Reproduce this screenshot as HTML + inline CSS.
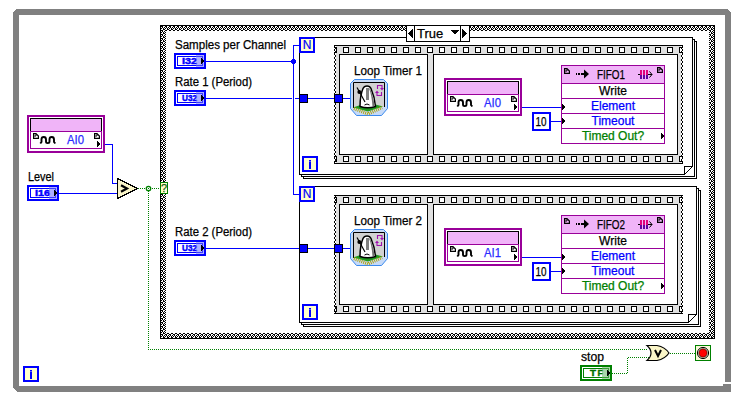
<!DOCTYPE html>
<html><head><meta charset="utf-8"><style>
html,body{margin:0;padding:0;background:#fff;width:741px;height:400px;overflow:hidden}
svg{display:block}
</style></head><body>
<svg width="741" height="400" viewBox="0 0 741 400" shape-rendering="crispEdges">
<defs><pattern id="chk" width="4" height="4" patternUnits="userSpaceOnUse"><rect width="4" height="4" fill="#fff"/><rect x="1" y="0" width="1" height="1" fill="#000"/><rect x="3" y="0" width="1" height="1" fill="#000"/><rect x="0" y="1" width="1" height="1" fill="#000"/><rect x="3" y="1" width="1" height="1" fill="#000"/><rect x="1" y="2" width="1" height="1" fill="#000"/><rect x="2" y="2" width="1" height="1" fill="#000"/><rect x="0" y="3" width="1" height="1" fill="#000"/><rect x="2" y="3" width="1" height="1" fill="#000"/></pattern><pattern id="dot" width="2" height="2" patternUnits="userSpaceOnUse"><rect width="1" height="1" fill="#000"/><rect x="1" y="1" width="1" height="1" fill="#000"/></pattern></defs>
<path d="M13 12 L16 9 H727 L731 13 V382 H725 V15 H19 V386 H13 Z" fill="#808080"/>
<path d="M13 386 H723 V384 H731 V392 H17 L13 388 Z" fill="#808080"/>
<rect x="23" y="366" width="16" height="16" fill="#0000ff"/>
<rect x="25" y="368" width="12" height="12" fill="#ffffcc"/>
<rect x="30" y="370" width="2" height="2" fill="#6060ff"/>
<rect x="30" y="370" width="2" height="1" fill="#0000ff"/>
<rect x="30" y="372" width="2" height="7" fill="#0000ff"/>
<path d="M160 25 h555 v314 h-555 Z M166 31 v302 h543 v-302 Z" fill="url(#chk)" fill-rule="evenodd"/>
<path d="M160 25 h555 v314 h-555 Z M161 26 v312 h553 v-312 Z" fill="#000" fill-rule="evenodd"/>
<path d="M299.5 37.5 H692.5 V166.5 L684.5 174.5 H299.5 Z" fill="#fff" stroke="#000" stroke-width="1"/>
<path d="M692.5 39.5 h2 V176.5 H301.5 v-2" fill="none" stroke="#000" stroke-width="1"/>
<path d="M694.5 41.5 h2 V178.5 H303.5 v-2" fill="none" stroke="#000" stroke-width="1"/>
<path d="M684.5 166.5 H692.5 L684.5 174.5 Z" fill="#fff" stroke="#000" stroke-width="1"/>
<rect x="299" y="37" width="16" height="16" fill="#0000ff"/>
<rect x="301" y="39" width="12" height="12" fill="#ffffcc"/>
<text x="307" y="49" font-family='"Liberation Sans", sans-serif' font-size="12" fill="#0000ff" text-anchor="middle" font-weight="normal" stroke="#0000ff" stroke-width="0.2">N</text>
<rect x="302" y="156" width="16" height="16" fill="#0000ff"/>
<rect x="304" y="158" width="12" height="12" fill="#ffffcc"/>
<rect x="309" y="160" width="2" height="2" fill="#6060ff"/>
<rect x="309" y="160" width="2" height="1" fill="#0000ff"/>
<rect x="309" y="162" width="2" height="7" fill="#0000ff"/>
<rect x="334" y="45" width="349" height="119" fill="#e0e0e0"/>
<rect x="334" y="45" width="349" height="1" fill="#000"/>
<rect x="334" y="163" width="349" height="1" fill="#000"/>
<rect x="339" y="54" width="89" height="101" fill="#000"/>
<rect x="340" y="55" width="87" height="99" fill="#fff"/>
<rect x="433" y="54" width="245" height="101" fill="#000"/>
<rect x="434" y="55" width="243" height="99" fill="#fff"/>
<rect x="343" y="47" width="6" height="6" fill="#000"/>
<rect x="344" y="48" width="4" height="4" fill="#fff"/>
<rect x="355" y="47" width="6" height="6" fill="#000"/>
<rect x="356" y="48" width="4" height="4" fill="#fff"/>
<rect x="367" y="47" width="6" height="6" fill="#000"/>
<rect x="368" y="48" width="4" height="4" fill="#fff"/>
<rect x="379" y="47" width="6" height="6" fill="#000"/>
<rect x="380" y="48" width="4" height="4" fill="#fff"/>
<rect x="391" y="47" width="6" height="6" fill="#000"/>
<rect x="392" y="48" width="4" height="4" fill="#fff"/>
<rect x="403" y="47" width="6" height="6" fill="#000"/>
<rect x="404" y="48" width="4" height="4" fill="#fff"/>
<rect x="415" y="47" width="6" height="6" fill="#000"/>
<rect x="416" y="48" width="4" height="4" fill="#fff"/>
<rect x="427" y="47" width="6" height="6" fill="#000"/>
<rect x="428" y="48" width="4" height="4" fill="#fff"/>
<rect x="439" y="47" width="6" height="6" fill="#000"/>
<rect x="440" y="48" width="4" height="4" fill="#fff"/>
<rect x="451" y="47" width="6" height="6" fill="#000"/>
<rect x="452" y="48" width="4" height="4" fill="#fff"/>
<rect x="463" y="47" width="6" height="6" fill="#000"/>
<rect x="464" y="48" width="4" height="4" fill="#fff"/>
<rect x="475" y="47" width="6" height="6" fill="#000"/>
<rect x="476" y="48" width="4" height="4" fill="#fff"/>
<rect x="487" y="47" width="6" height="6" fill="#000"/>
<rect x="488" y="48" width="4" height="4" fill="#fff"/>
<rect x="499" y="47" width="6" height="6" fill="#000"/>
<rect x="500" y="48" width="4" height="4" fill="#fff"/>
<rect x="511" y="47" width="6" height="6" fill="#000"/>
<rect x="512" y="48" width="4" height="4" fill="#fff"/>
<rect x="523" y="47" width="6" height="6" fill="#000"/>
<rect x="524" y="48" width="4" height="4" fill="#fff"/>
<rect x="535" y="47" width="6" height="6" fill="#000"/>
<rect x="536" y="48" width="4" height="4" fill="#fff"/>
<rect x="547" y="47" width="6" height="6" fill="#000"/>
<rect x="548" y="48" width="4" height="4" fill="#fff"/>
<rect x="559" y="47" width="6" height="6" fill="#000"/>
<rect x="560" y="48" width="4" height="4" fill="#fff"/>
<rect x="571" y="47" width="6" height="6" fill="#000"/>
<rect x="572" y="48" width="4" height="4" fill="#fff"/>
<rect x="583" y="47" width="6" height="6" fill="#000"/>
<rect x="584" y="48" width="4" height="4" fill="#fff"/>
<rect x="595" y="47" width="6" height="6" fill="#000"/>
<rect x="596" y="48" width="4" height="4" fill="#fff"/>
<rect x="607" y="47" width="6" height="6" fill="#000"/>
<rect x="608" y="48" width="4" height="4" fill="#fff"/>
<rect x="619" y="47" width="6" height="6" fill="#000"/>
<rect x="620" y="48" width="4" height="4" fill="#fff"/>
<rect x="631" y="47" width="6" height="6" fill="#000"/>
<rect x="632" y="48" width="4" height="4" fill="#fff"/>
<rect x="643" y="47" width="6" height="6" fill="#000"/>
<rect x="644" y="48" width="4" height="4" fill="#fff"/>
<rect x="655" y="47" width="6" height="6" fill="#000"/>
<rect x="656" y="48" width="4" height="4" fill="#fff"/>
<rect x="667" y="47" width="6" height="6" fill="#000"/>
<rect x="668" y="48" width="4" height="4" fill="#fff"/>
<rect x="343" y="156" width="6" height="6" fill="#000"/>
<rect x="344" y="157" width="4" height="4" fill="#fff"/>
<rect x="355" y="156" width="6" height="6" fill="#000"/>
<rect x="356" y="157" width="4" height="4" fill="#fff"/>
<rect x="367" y="156" width="6" height="6" fill="#000"/>
<rect x="368" y="157" width="4" height="4" fill="#fff"/>
<rect x="379" y="156" width="6" height="6" fill="#000"/>
<rect x="380" y="157" width="4" height="4" fill="#fff"/>
<rect x="391" y="156" width="6" height="6" fill="#000"/>
<rect x="392" y="157" width="4" height="4" fill="#fff"/>
<rect x="403" y="156" width="6" height="6" fill="#000"/>
<rect x="404" y="157" width="4" height="4" fill="#fff"/>
<rect x="415" y="156" width="6" height="6" fill="#000"/>
<rect x="416" y="157" width="4" height="4" fill="#fff"/>
<rect x="427" y="156" width="6" height="6" fill="#000"/>
<rect x="428" y="157" width="4" height="4" fill="#fff"/>
<rect x="439" y="156" width="6" height="6" fill="#000"/>
<rect x="440" y="157" width="4" height="4" fill="#fff"/>
<rect x="451" y="156" width="6" height="6" fill="#000"/>
<rect x="452" y="157" width="4" height="4" fill="#fff"/>
<rect x="463" y="156" width="6" height="6" fill="#000"/>
<rect x="464" y="157" width="4" height="4" fill="#fff"/>
<rect x="475" y="156" width="6" height="6" fill="#000"/>
<rect x="476" y="157" width="4" height="4" fill="#fff"/>
<rect x="487" y="156" width="6" height="6" fill="#000"/>
<rect x="488" y="157" width="4" height="4" fill="#fff"/>
<rect x="499" y="156" width="6" height="6" fill="#000"/>
<rect x="500" y="157" width="4" height="4" fill="#fff"/>
<rect x="511" y="156" width="6" height="6" fill="#000"/>
<rect x="512" y="157" width="4" height="4" fill="#fff"/>
<rect x="523" y="156" width="6" height="6" fill="#000"/>
<rect x="524" y="157" width="4" height="4" fill="#fff"/>
<rect x="535" y="156" width="6" height="6" fill="#000"/>
<rect x="536" y="157" width="4" height="4" fill="#fff"/>
<rect x="547" y="156" width="6" height="6" fill="#000"/>
<rect x="548" y="157" width="4" height="4" fill="#fff"/>
<rect x="559" y="156" width="6" height="6" fill="#000"/>
<rect x="560" y="157" width="4" height="4" fill="#fff"/>
<rect x="571" y="156" width="6" height="6" fill="#000"/>
<rect x="572" y="157" width="4" height="4" fill="#fff"/>
<rect x="583" y="156" width="6" height="6" fill="#000"/>
<rect x="584" y="157" width="4" height="4" fill="#fff"/>
<rect x="595" y="156" width="6" height="6" fill="#000"/>
<rect x="596" y="157" width="4" height="4" fill="#fff"/>
<rect x="607" y="156" width="6" height="6" fill="#000"/>
<rect x="608" y="157" width="4" height="4" fill="#fff"/>
<rect x="619" y="156" width="6" height="6" fill="#000"/>
<rect x="620" y="157" width="4" height="4" fill="#fff"/>
<rect x="631" y="156" width="6" height="6" fill="#000"/>
<rect x="632" y="157" width="4" height="4" fill="#fff"/>
<rect x="643" y="156" width="6" height="6" fill="#000"/>
<rect x="644" y="157" width="4" height="4" fill="#fff"/>
<rect x="655" y="156" width="6" height="6" fill="#000"/>
<rect x="656" y="157" width="4" height="4" fill="#fff"/>
<rect x="667" y="156" width="6" height="6" fill="#000"/>
<rect x="668" y="157" width="4" height="4" fill="#fff"/>
<rect x="334" y="47" width="3" height="6" fill="#000"/>
<rect x="334" y="48" width="2" height="4" fill="#fff"/>
<rect x="334" y="156" width="3" height="6" fill="#000"/>
<rect x="334" y="157" width="2" height="4" fill="#fff"/>
<rect x="679" y="47" width="4" height="6" fill="#000"/>
<rect x="680" y="48" width="2" height="4" fill="#fff"/>
<rect x="679" y="156" width="4" height="6" fill="#000"/>
<rect x="680" y="157" width="2" height="4" fill="#fff"/>
<path d="M335 46h1v1h-1zM681 46h1v1h-1zM334 48h1v1h-1zM682 48h1v1h-1zM335 49h1v1h-1zM681 49h1v1h-1zM335 50h1v1h-1zM681 50h1v1h-1zM334 51h1v1h-1zM682 51h1v1h-1zM335 53h1v1h-1zM681 53h1v1h-1zM335 54h1v1h-1zM681 54h1v1h-1zM334 55h1v1h-1zM682 55h1v1h-1zM334 56h1v1h-1zM682 56h1v1h-1zM335 57h1v1h-1zM681 57h1v1h-1zM335 58h1v1h-1zM681 58h1v1h-1zM334 59h1v1h-1zM682 59h1v1h-1zM334 60h1v1h-1zM682 60h1v1h-1zM335 61h1v1h-1zM681 61h1v1h-1zM335 62h1v1h-1zM681 62h1v1h-1zM334 63h1v1h-1zM682 63h1v1h-1zM334 64h1v1h-1zM682 64h1v1h-1zM335 65h1v1h-1zM681 65h1v1h-1zM335 66h1v1h-1zM681 66h1v1h-1zM334 67h1v1h-1zM682 67h1v1h-1zM334 68h1v1h-1zM682 68h1v1h-1zM335 69h1v1h-1zM681 69h1v1h-1zM335 70h1v1h-1zM681 70h1v1h-1zM334 71h1v1h-1zM682 71h1v1h-1zM334 72h1v1h-1zM682 72h1v1h-1zM335 73h1v1h-1zM681 73h1v1h-1zM335 74h1v1h-1zM681 74h1v1h-1zM334 75h1v1h-1zM682 75h1v1h-1zM334 76h1v1h-1zM682 76h1v1h-1zM335 77h1v1h-1zM681 77h1v1h-1zM335 78h1v1h-1zM681 78h1v1h-1zM334 79h1v1h-1zM682 79h1v1h-1zM334 80h1v1h-1zM682 80h1v1h-1zM335 81h1v1h-1zM681 81h1v1h-1zM335 82h1v1h-1zM681 82h1v1h-1zM334 83h1v1h-1zM682 83h1v1h-1zM334 84h1v1h-1zM682 84h1v1h-1zM335 85h1v1h-1zM681 85h1v1h-1zM335 86h1v1h-1zM681 86h1v1h-1zM334 87h1v1h-1zM682 87h1v1h-1zM334 88h1v1h-1zM682 88h1v1h-1zM335 89h1v1h-1zM681 89h1v1h-1zM335 90h1v1h-1zM681 90h1v1h-1zM334 91h1v1h-1zM682 91h1v1h-1zM334 92h1v1h-1zM682 92h1v1h-1zM335 93h1v1h-1zM681 93h1v1h-1zM335 94h1v1h-1zM681 94h1v1h-1zM334 95h1v1h-1zM682 95h1v1h-1zM334 96h1v1h-1zM682 96h1v1h-1zM335 97h1v1h-1zM681 97h1v1h-1zM335 98h1v1h-1zM681 98h1v1h-1zM334 99h1v1h-1zM682 99h1v1h-1zM334 100h1v1h-1zM682 100h1v1h-1zM335 101h1v1h-1zM681 101h1v1h-1zM335 102h1v1h-1zM681 102h1v1h-1zM334 103h1v1h-1zM682 103h1v1h-1zM334 104h1v1h-1zM682 104h1v1h-1zM335 105h1v1h-1zM681 105h1v1h-1zM335 106h1v1h-1zM681 106h1v1h-1zM334 107h1v1h-1zM682 107h1v1h-1zM334 108h1v1h-1zM682 108h1v1h-1zM335 109h1v1h-1zM681 109h1v1h-1zM335 110h1v1h-1zM681 110h1v1h-1zM334 111h1v1h-1zM682 111h1v1h-1zM334 112h1v1h-1zM682 112h1v1h-1zM335 113h1v1h-1zM681 113h1v1h-1zM335 114h1v1h-1zM681 114h1v1h-1zM334 115h1v1h-1zM682 115h1v1h-1zM334 116h1v1h-1zM682 116h1v1h-1zM335 117h1v1h-1zM681 117h1v1h-1zM335 118h1v1h-1zM681 118h1v1h-1zM334 119h1v1h-1zM682 119h1v1h-1zM334 120h1v1h-1zM682 120h1v1h-1zM335 121h1v1h-1zM681 121h1v1h-1zM335 122h1v1h-1zM681 122h1v1h-1zM334 123h1v1h-1zM682 123h1v1h-1zM334 124h1v1h-1zM682 124h1v1h-1zM335 125h1v1h-1zM681 125h1v1h-1zM335 126h1v1h-1zM681 126h1v1h-1zM334 127h1v1h-1zM682 127h1v1h-1zM334 128h1v1h-1zM682 128h1v1h-1zM335 129h1v1h-1zM681 129h1v1h-1zM335 130h1v1h-1zM681 130h1v1h-1zM334 131h1v1h-1zM682 131h1v1h-1zM334 132h1v1h-1zM682 132h1v1h-1zM335 133h1v1h-1zM681 133h1v1h-1zM335 134h1v1h-1zM681 134h1v1h-1zM334 135h1v1h-1zM682 135h1v1h-1zM334 136h1v1h-1zM682 136h1v1h-1zM335 137h1v1h-1zM681 137h1v1h-1zM335 138h1v1h-1zM681 138h1v1h-1zM334 139h1v1h-1zM682 139h1v1h-1zM334 140h1v1h-1zM682 140h1v1h-1zM335 141h1v1h-1zM681 141h1v1h-1zM335 142h1v1h-1zM681 142h1v1h-1zM334 143h1v1h-1zM682 143h1v1h-1zM334 144h1v1h-1zM682 144h1v1h-1zM335 145h1v1h-1zM681 145h1v1h-1zM335 146h1v1h-1zM681 146h1v1h-1zM334 147h1v1h-1zM682 147h1v1h-1zM334 148h1v1h-1zM682 148h1v1h-1zM335 149h1v1h-1zM681 149h1v1h-1zM335 150h1v1h-1zM681 150h1v1h-1zM334 151h1v1h-1zM682 151h1v1h-1zM334 152h1v1h-1zM682 152h1v1h-1zM335 153h1v1h-1zM681 153h1v1h-1zM335 154h1v1h-1zM681 154h1v1h-1zM334 155h1v1h-1zM682 155h1v1h-1zM335 157h1v1h-1zM681 157h1v1h-1zM335 158h1v1h-1zM681 158h1v1h-1zM334 159h1v1h-1zM682 159h1v1h-1zM334 160h1v1h-1zM682 160h1v1h-1zM335 162h1v1h-1zM681 162h1v1h-1z" fill="#fff"/>
<path d="M334 46h1v1h-1zM682 46h1v1h-1zM335 48h1v1h-1zM681 48h1v1h-1zM334 49h1v1h-1zM682 49h1v1h-1zM334 50h1v1h-1zM682 50h1v1h-1zM335 51h1v1h-1zM681 51h1v1h-1zM334 53h1v1h-1zM682 53h1v1h-1zM334 54h1v1h-1zM682 54h1v1h-1zM335 55h1v1h-1zM681 55h1v1h-1zM335 56h1v1h-1zM681 56h1v1h-1zM334 57h1v1h-1zM682 57h1v1h-1zM334 58h1v1h-1zM682 58h1v1h-1zM335 59h1v1h-1zM681 59h1v1h-1zM335 60h1v1h-1zM681 60h1v1h-1zM334 61h1v1h-1zM682 61h1v1h-1zM334 62h1v1h-1zM682 62h1v1h-1zM335 63h1v1h-1zM681 63h1v1h-1zM335 64h1v1h-1zM681 64h1v1h-1zM334 65h1v1h-1zM682 65h1v1h-1zM334 66h1v1h-1zM682 66h1v1h-1zM335 67h1v1h-1zM681 67h1v1h-1zM335 68h1v1h-1zM681 68h1v1h-1zM334 69h1v1h-1zM682 69h1v1h-1zM334 70h1v1h-1zM682 70h1v1h-1zM335 71h1v1h-1zM681 71h1v1h-1zM335 72h1v1h-1zM681 72h1v1h-1zM334 73h1v1h-1zM682 73h1v1h-1zM334 74h1v1h-1zM682 74h1v1h-1zM335 75h1v1h-1zM681 75h1v1h-1zM335 76h1v1h-1zM681 76h1v1h-1zM334 77h1v1h-1zM682 77h1v1h-1zM334 78h1v1h-1zM682 78h1v1h-1zM335 79h1v1h-1zM681 79h1v1h-1zM335 80h1v1h-1zM681 80h1v1h-1zM334 81h1v1h-1zM682 81h1v1h-1zM334 82h1v1h-1zM682 82h1v1h-1zM335 83h1v1h-1zM681 83h1v1h-1zM335 84h1v1h-1zM681 84h1v1h-1zM334 85h1v1h-1zM682 85h1v1h-1zM334 86h1v1h-1zM682 86h1v1h-1zM335 87h1v1h-1zM681 87h1v1h-1zM335 88h1v1h-1zM681 88h1v1h-1zM334 89h1v1h-1zM682 89h1v1h-1zM334 90h1v1h-1zM682 90h1v1h-1zM335 91h1v1h-1zM681 91h1v1h-1zM335 92h1v1h-1zM681 92h1v1h-1zM334 93h1v1h-1zM682 93h1v1h-1zM334 94h1v1h-1zM682 94h1v1h-1zM335 95h1v1h-1zM681 95h1v1h-1zM335 96h1v1h-1zM681 96h1v1h-1zM334 97h1v1h-1zM682 97h1v1h-1zM334 98h1v1h-1zM682 98h1v1h-1zM335 99h1v1h-1zM681 99h1v1h-1zM335 100h1v1h-1zM681 100h1v1h-1zM334 101h1v1h-1zM682 101h1v1h-1zM334 102h1v1h-1zM682 102h1v1h-1zM335 103h1v1h-1zM681 103h1v1h-1zM335 104h1v1h-1zM681 104h1v1h-1zM334 105h1v1h-1zM682 105h1v1h-1zM334 106h1v1h-1zM682 106h1v1h-1zM335 107h1v1h-1zM681 107h1v1h-1zM335 108h1v1h-1zM681 108h1v1h-1zM334 109h1v1h-1zM682 109h1v1h-1zM334 110h1v1h-1zM682 110h1v1h-1zM335 111h1v1h-1zM681 111h1v1h-1zM335 112h1v1h-1zM681 112h1v1h-1zM334 113h1v1h-1zM682 113h1v1h-1zM334 114h1v1h-1zM682 114h1v1h-1zM335 115h1v1h-1zM681 115h1v1h-1zM335 116h1v1h-1zM681 116h1v1h-1zM334 117h1v1h-1zM682 117h1v1h-1zM334 118h1v1h-1zM682 118h1v1h-1zM335 119h1v1h-1zM681 119h1v1h-1zM335 120h1v1h-1zM681 120h1v1h-1zM334 121h1v1h-1zM682 121h1v1h-1zM334 122h1v1h-1zM682 122h1v1h-1zM335 123h1v1h-1zM681 123h1v1h-1zM335 124h1v1h-1zM681 124h1v1h-1zM334 125h1v1h-1zM682 125h1v1h-1zM334 126h1v1h-1zM682 126h1v1h-1zM335 127h1v1h-1zM681 127h1v1h-1zM335 128h1v1h-1zM681 128h1v1h-1zM334 129h1v1h-1zM682 129h1v1h-1zM334 130h1v1h-1zM682 130h1v1h-1zM335 131h1v1h-1zM681 131h1v1h-1zM335 132h1v1h-1zM681 132h1v1h-1zM334 133h1v1h-1zM682 133h1v1h-1zM334 134h1v1h-1zM682 134h1v1h-1zM335 135h1v1h-1zM681 135h1v1h-1zM335 136h1v1h-1zM681 136h1v1h-1zM334 137h1v1h-1zM682 137h1v1h-1zM334 138h1v1h-1zM682 138h1v1h-1zM335 139h1v1h-1zM681 139h1v1h-1zM335 140h1v1h-1zM681 140h1v1h-1zM334 141h1v1h-1zM682 141h1v1h-1zM334 142h1v1h-1zM682 142h1v1h-1zM335 143h1v1h-1zM681 143h1v1h-1zM335 144h1v1h-1zM681 144h1v1h-1zM334 145h1v1h-1zM682 145h1v1h-1zM334 146h1v1h-1zM682 146h1v1h-1zM335 147h1v1h-1zM681 147h1v1h-1zM335 148h1v1h-1zM681 148h1v1h-1zM334 149h1v1h-1zM682 149h1v1h-1zM334 150h1v1h-1zM682 150h1v1h-1zM335 151h1v1h-1zM681 151h1v1h-1zM335 152h1v1h-1zM681 152h1v1h-1zM334 153h1v1h-1zM682 153h1v1h-1zM334 154h1v1h-1zM682 154h1v1h-1zM335 155h1v1h-1zM681 155h1v1h-1zM334 157h1v1h-1zM682 157h1v1h-1zM334 158h1v1h-1zM682 158h1v1h-1zM335 159h1v1h-1zM681 159h1v1h-1zM335 160h1v1h-1zM681 160h1v1h-1zM334 162h1v1h-1zM682 162h1v1h-1z" fill="#000"/>
<text x="354" y="75" font-family='"Liberation Sans", sans-serif' font-size="12" fill="#000" text-anchor="start" font-weight="normal" textLength="68" lengthAdjust="spacingAndGlyphs" stroke="#000" stroke-width="0.25">Loop Timer 1</text>
<g transform="translate(348,77)" shape-rendering="auto"><path d="M6.5 2.5 H35.5 L39.5 6.5 V31.5 L33.5 38.5 H8.5 L2.5 31.5 V6.5 Z" fill="#c6daf8" stroke="#3a8af0" stroke-width="1"/><path d="M5.5 31 V5.5 H36.5 V30" fill="#d2d2d2" stroke="#000" stroke-width="1"/><path d="M5 30.5 L20 25.5 L35 29.5 L20 34.5 Z" fill="#1f9a1f"/><path d="M6 31.5 L20 37 L34 30.5" fill="none" stroke="#b0a000" stroke-width="3.4" stroke-dasharray="0.9 1.1"/><path d="M12 29.5 C12 22 13.5 15 15 11.5 C16.5 8 21.5 8 23 11.5 C24.5 15 27 22 27.5 29.5 C23 31 16.5 31 12 29.5 Z" fill="#fff" stroke="#000" stroke-width="1.5"/><path d="M22 11.5 C23.5 15 26 22 26.5 29 L24.5 29.5 C24 22 23 16 21 11.5 Z" fill="#707070"/><path d="M18 12 h3 M18 14 h3 M18 16 h3 M18 18 h3 M18 20 h3 M18 22 h3" stroke="#000" stroke-width="1"/><path d="M16.5 28 Q19 26 21.5 28" fill="none" stroke="#000" stroke-width="1"/><path d="M9 10.5 L17 25" stroke="#000" stroke-width="1.2"/><circle cx="11.3" cy="15" r="1.9" fill="#000"/><path d="M29.5 12 V8.5 H34 V11.5" fill="none" stroke="#a010b0" stroke-width="1.1"/><path d="M32 11 L34 13.5 L36 11 Z" fill="#a010b0"/><path d="M33.5 15 V18.5 H29 V15.5" fill="none" stroke="#a010b0" stroke-width="1.1"/><path d="M27 16 L29 13.5 L31 16 Z" fill="#a010b0"/></g>
<rect x="444" y="78" width="78" height="38" fill="#990099"/>
<rect x="446" y="80" width="74" height="34" fill="#fff"/>
<rect x="447" y="81" width="72" height="14" fill="#000"/>
<rect x="448" y="82" width="70" height="12" fill="#f0b4f8"/>
<rect x="447" y="94" width="72" height="18" fill="#990099"/>
<rect x="448" y="95" width="70" height="16" fill="#fff"/>
<path d="M450.6 96.6 H453 L455.4 99 V101.4 H450.6 Z" fill="none" stroke="#000" stroke-width="1.2" shape-rendering="auto"/>
<path d="M451.2 99 H453 V97" fill="none" stroke="#000" stroke-width="1" shape-rendering="auto"/>
<path transform="translate(457,98)" d="M0.3 8.5 L1.5 7 V4.5 C1.5 1.2 6 1.2 6 4.5 V6.5 C6 8.6 9.5 8.6 9.5 6.5 V4.5 C9.5 1.2 14 1.2 14 4.5 V7 L15.3 8.5" fill="none" stroke="#000" stroke-width="1.9" shape-rendering="auto"/>
<text x="484" y="106.5" font-family='"Liberation Sans", sans-serif' font-size="12" fill="#2b2bff" text-anchor="start" font-weight="normal" textLength="17" lengthAdjust="spacingAndGlyphs" stroke="#2b2bff" stroke-width="0.25">AI0</text>
<path d="M511.6 96.6 H514 L516.4 99 V101.4 H511.6 Z" fill="none" stroke="#000" stroke-width="1.2" shape-rendering="auto"/>
<path d="M512.2 99 H514 V97" fill="none" stroke="#000" stroke-width="1" shape-rendering="auto"/>
<path d="M514 104 L517 107 L514 110 Z" fill="#000"/>
<rect x="561" y="65" width="104" height="79" fill="#990099"/>
<rect x="562" y="66" width="102" height="17" fill="#f0b4f8"/>
<rect x="562" y="84" width="102" height="14" fill="#fff"/>
<text x="613" y="94.5" font-family='"Liberation Sans", sans-serif' font-size="12" fill="#000" text-anchor="middle" font-weight="normal" stroke="#000" stroke-width="0.25">Write</text>
<rect x="562" y="99" width="102" height="14" fill="#fff"/>
<text x="613" y="109.5" font-family='"Liberation Sans", sans-serif' font-size="12" fill="#0000ff" text-anchor="middle" font-weight="normal" stroke="#0000ff" stroke-width="0.25">Element</text>
<rect x="562" y="114" width="102" height="14" fill="#fff"/>
<text x="613" y="124.5" font-family='"Liberation Sans", sans-serif' font-size="12" fill="#0000ff" text-anchor="middle" font-weight="normal" stroke="#0000ff" stroke-width="0.25">Timeout</text>
<rect x="562" y="129" width="102" height="14" fill="#fff"/>
<text x="613" y="139.5" font-family='"Liberation Sans", sans-serif' font-size="12" fill="#008000" text-anchor="middle" font-weight="normal" stroke="#008000" stroke-width="0.25">Timed Out?</text>
<path d="M564.6 68.6 H567 L569.4 71 V73.4 H564.6 Z" fill="none" stroke="#000" stroke-width="1.2" shape-rendering="auto"/>
<path d="M565.2 71 H567 V69" fill="none" stroke="#000" stroke-width="1" shape-rendering="auto"/>
<path d="M657.6 67.6 H660 L662.4 70 V72.4 H657.6 Z" fill="none" stroke="#000" stroke-width="1.2" shape-rendering="auto"/>
<path d="M658.2 70 H660 V68" fill="none" stroke="#000" stroke-width="1" shape-rendering="auto"/>
<text x="611" y="78.5" font-family='"Liberation Sans", sans-serif' font-size="12" fill="#000" text-anchor="middle" font-weight="normal" textLength="28" lengthAdjust="spacingAndGlyphs" stroke="#000" stroke-width="0.25">FIFO1</text>
<rect x="576" y="73" width="1" height="2" fill="#000"/>
<rect x="578" y="73" width="2" height="2" fill="#000"/>
<rect x="581" y="73" width="4" height="2" fill="#000"/>
<path d="M584 69.5 L589 74 L584 78.5 Z" fill="#000" shape-rendering="auto"/>
<rect x="638" y="74" width="3" height="1" fill="#000"/>
<rect x="640" y="70" width="2" height="5" fill="#e0007a"/>
<rect x="640" y="75" width="2" height="4" fill="#6000a0"/>
<rect x="643" y="70" width="2" height="5" fill="#e0007a"/>
<rect x="643" y="75" width="2" height="4" fill="#6000a0"/>
<rect x="646" y="70" width="2" height="5" fill="#e0007a"/>
<rect x="646" y="75" width="2" height="4" fill="#6000a0"/>
<rect x="648" y="74" width="4" height="1" fill="#000"/>
<path d="M649.5 71.5 L652 74.5 L649.5 77.5" fill="none" stroke="#000" stroke-width="1" shape-rendering="auto"/>
<path d="M562 104 L565 107 L562 110 Z" fill="#000"/>
<path d="M562 118 L565 121 L562 124 Z" fill="#000"/>
<path d="M661 133 L664 136 L661 139 Z" fill="#000"/>
<rect x="532" y="112" width="19" height="19" fill="#0000ff"/>
<rect x="534" y="114" width="15" height="15" fill="#fff"/>
<text x="535.5" y="126" font-family='"Liberation Sans", sans-serif' font-size="12" fill="#000" text-anchor="start" font-weight="normal" textLength="11" lengthAdjust="spacingAndGlyphs" stroke="#000" stroke-width="0.25">10</text>
<rect x="522" y="107" width="39" height="1" fill="#0000ff"/>
<rect x="551" y="121" width="10" height="1" fill="#0000ff"/>
<rect x="299" y="94" width="9" height="9" fill="#000"/>
<rect x="300" y="95" width="7" height="7" fill="#0000ff"/>
<rect x="334" y="94" width="9" height="9" fill="#000"/>
<rect x="335" y="95" width="7" height="7" fill="#0000ff"/>
<rect x="308" y="98" width="26" height="1" fill="#0000ff"/>
<rect x="343" y="98" width="7" height="1" fill="#0000ff"/>
<path d="M299.5 186.5 H696.5 V314.5 L688.5 322.5 H299.5 Z" fill="#fff" stroke="#000" stroke-width="1"/>
<path d="M696.5 188.5 h2 V324.5 H301.5 v-2" fill="none" stroke="#000" stroke-width="1"/>
<path d="M698.5 190.5 h2 V326.5 H303.5 v-2" fill="none" stroke="#000" stroke-width="1"/>
<path d="M688.5 314.5 H696.5 L688.5 322.5 Z" fill="#fff" stroke="#000" stroke-width="1"/>
<rect x="299" y="186" width="16" height="16" fill="#0000ff"/>
<rect x="301" y="188" width="12" height="12" fill="#ffffcc"/>
<text x="307" y="198" font-family='"Liberation Sans", sans-serif' font-size="12" fill="#0000ff" text-anchor="middle" font-weight="normal" stroke="#0000ff" stroke-width="0.2">N</text>
<rect x="302" y="304" width="16" height="16" fill="#0000ff"/>
<rect x="304" y="306" width="12" height="12" fill="#ffffcc"/>
<rect x="309" y="308" width="2" height="2" fill="#6060ff"/>
<rect x="309" y="308" width="2" height="1" fill="#0000ff"/>
<rect x="309" y="310" width="2" height="7" fill="#0000ff"/>
<rect x="334" y="195" width="349" height="119" fill="#e0e0e0"/>
<rect x="334" y="195" width="349" height="1" fill="#000"/>
<rect x="334" y="313" width="349" height="1" fill="#000"/>
<rect x="339" y="204" width="89" height="101" fill="#000"/>
<rect x="340" y="205" width="87" height="99" fill="#fff"/>
<rect x="433" y="204" width="245" height="101" fill="#000"/>
<rect x="434" y="205" width="243" height="99" fill="#fff"/>
<rect x="343" y="197" width="6" height="6" fill="#000"/>
<rect x="344" y="198" width="4" height="4" fill="#fff"/>
<rect x="355" y="197" width="6" height="6" fill="#000"/>
<rect x="356" y="198" width="4" height="4" fill="#fff"/>
<rect x="367" y="197" width="6" height="6" fill="#000"/>
<rect x="368" y="198" width="4" height="4" fill="#fff"/>
<rect x="379" y="197" width="6" height="6" fill="#000"/>
<rect x="380" y="198" width="4" height="4" fill="#fff"/>
<rect x="391" y="197" width="6" height="6" fill="#000"/>
<rect x="392" y="198" width="4" height="4" fill="#fff"/>
<rect x="403" y="197" width="6" height="6" fill="#000"/>
<rect x="404" y="198" width="4" height="4" fill="#fff"/>
<rect x="415" y="197" width="6" height="6" fill="#000"/>
<rect x="416" y="198" width="4" height="4" fill="#fff"/>
<rect x="427" y="197" width="6" height="6" fill="#000"/>
<rect x="428" y="198" width="4" height="4" fill="#fff"/>
<rect x="439" y="197" width="6" height="6" fill="#000"/>
<rect x="440" y="198" width="4" height="4" fill="#fff"/>
<rect x="451" y="197" width="6" height="6" fill="#000"/>
<rect x="452" y="198" width="4" height="4" fill="#fff"/>
<rect x="463" y="197" width="6" height="6" fill="#000"/>
<rect x="464" y="198" width="4" height="4" fill="#fff"/>
<rect x="475" y="197" width="6" height="6" fill="#000"/>
<rect x="476" y="198" width="4" height="4" fill="#fff"/>
<rect x="487" y="197" width="6" height="6" fill="#000"/>
<rect x="488" y="198" width="4" height="4" fill="#fff"/>
<rect x="499" y="197" width="6" height="6" fill="#000"/>
<rect x="500" y="198" width="4" height="4" fill="#fff"/>
<rect x="511" y="197" width="6" height="6" fill="#000"/>
<rect x="512" y="198" width="4" height="4" fill="#fff"/>
<rect x="523" y="197" width="6" height="6" fill="#000"/>
<rect x="524" y="198" width="4" height="4" fill="#fff"/>
<rect x="535" y="197" width="6" height="6" fill="#000"/>
<rect x="536" y="198" width="4" height="4" fill="#fff"/>
<rect x="547" y="197" width="6" height="6" fill="#000"/>
<rect x="548" y="198" width="4" height="4" fill="#fff"/>
<rect x="559" y="197" width="6" height="6" fill="#000"/>
<rect x="560" y="198" width="4" height="4" fill="#fff"/>
<rect x="571" y="197" width="6" height="6" fill="#000"/>
<rect x="572" y="198" width="4" height="4" fill="#fff"/>
<rect x="583" y="197" width="6" height="6" fill="#000"/>
<rect x="584" y="198" width="4" height="4" fill="#fff"/>
<rect x="595" y="197" width="6" height="6" fill="#000"/>
<rect x="596" y="198" width="4" height="4" fill="#fff"/>
<rect x="607" y="197" width="6" height="6" fill="#000"/>
<rect x="608" y="198" width="4" height="4" fill="#fff"/>
<rect x="619" y="197" width="6" height="6" fill="#000"/>
<rect x="620" y="198" width="4" height="4" fill="#fff"/>
<rect x="631" y="197" width="6" height="6" fill="#000"/>
<rect x="632" y="198" width="4" height="4" fill="#fff"/>
<rect x="643" y="197" width="6" height="6" fill="#000"/>
<rect x="644" y="198" width="4" height="4" fill="#fff"/>
<rect x="655" y="197" width="6" height="6" fill="#000"/>
<rect x="656" y="198" width="4" height="4" fill="#fff"/>
<rect x="667" y="197" width="6" height="6" fill="#000"/>
<rect x="668" y="198" width="4" height="4" fill="#fff"/>
<rect x="343" y="306" width="6" height="6" fill="#000"/>
<rect x="344" y="307" width="4" height="4" fill="#fff"/>
<rect x="355" y="306" width="6" height="6" fill="#000"/>
<rect x="356" y="307" width="4" height="4" fill="#fff"/>
<rect x="367" y="306" width="6" height="6" fill="#000"/>
<rect x="368" y="307" width="4" height="4" fill="#fff"/>
<rect x="379" y="306" width="6" height="6" fill="#000"/>
<rect x="380" y="307" width="4" height="4" fill="#fff"/>
<rect x="391" y="306" width="6" height="6" fill="#000"/>
<rect x="392" y="307" width="4" height="4" fill="#fff"/>
<rect x="403" y="306" width="6" height="6" fill="#000"/>
<rect x="404" y="307" width="4" height="4" fill="#fff"/>
<rect x="415" y="306" width="6" height="6" fill="#000"/>
<rect x="416" y="307" width="4" height="4" fill="#fff"/>
<rect x="427" y="306" width="6" height="6" fill="#000"/>
<rect x="428" y="307" width="4" height="4" fill="#fff"/>
<rect x="439" y="306" width="6" height="6" fill="#000"/>
<rect x="440" y="307" width="4" height="4" fill="#fff"/>
<rect x="451" y="306" width="6" height="6" fill="#000"/>
<rect x="452" y="307" width="4" height="4" fill="#fff"/>
<rect x="463" y="306" width="6" height="6" fill="#000"/>
<rect x="464" y="307" width="4" height="4" fill="#fff"/>
<rect x="475" y="306" width="6" height="6" fill="#000"/>
<rect x="476" y="307" width="4" height="4" fill="#fff"/>
<rect x="487" y="306" width="6" height="6" fill="#000"/>
<rect x="488" y="307" width="4" height="4" fill="#fff"/>
<rect x="499" y="306" width="6" height="6" fill="#000"/>
<rect x="500" y="307" width="4" height="4" fill="#fff"/>
<rect x="511" y="306" width="6" height="6" fill="#000"/>
<rect x="512" y="307" width="4" height="4" fill="#fff"/>
<rect x="523" y="306" width="6" height="6" fill="#000"/>
<rect x="524" y="307" width="4" height="4" fill="#fff"/>
<rect x="535" y="306" width="6" height="6" fill="#000"/>
<rect x="536" y="307" width="4" height="4" fill="#fff"/>
<rect x="547" y="306" width="6" height="6" fill="#000"/>
<rect x="548" y="307" width="4" height="4" fill="#fff"/>
<rect x="559" y="306" width="6" height="6" fill="#000"/>
<rect x="560" y="307" width="4" height="4" fill="#fff"/>
<rect x="571" y="306" width="6" height="6" fill="#000"/>
<rect x="572" y="307" width="4" height="4" fill="#fff"/>
<rect x="583" y="306" width="6" height="6" fill="#000"/>
<rect x="584" y="307" width="4" height="4" fill="#fff"/>
<rect x="595" y="306" width="6" height="6" fill="#000"/>
<rect x="596" y="307" width="4" height="4" fill="#fff"/>
<rect x="607" y="306" width="6" height="6" fill="#000"/>
<rect x="608" y="307" width="4" height="4" fill="#fff"/>
<rect x="619" y="306" width="6" height="6" fill="#000"/>
<rect x="620" y="307" width="4" height="4" fill="#fff"/>
<rect x="631" y="306" width="6" height="6" fill="#000"/>
<rect x="632" y="307" width="4" height="4" fill="#fff"/>
<rect x="643" y="306" width="6" height="6" fill="#000"/>
<rect x="644" y="307" width="4" height="4" fill="#fff"/>
<rect x="655" y="306" width="6" height="6" fill="#000"/>
<rect x="656" y="307" width="4" height="4" fill="#fff"/>
<rect x="667" y="306" width="6" height="6" fill="#000"/>
<rect x="668" y="307" width="4" height="4" fill="#fff"/>
<rect x="334" y="197" width="3" height="6" fill="#000"/>
<rect x="334" y="198" width="2" height="4" fill="#fff"/>
<rect x="334" y="306" width="3" height="6" fill="#000"/>
<rect x="334" y="307" width="2" height="4" fill="#fff"/>
<rect x="679" y="197" width="4" height="6" fill="#000"/>
<rect x="680" y="198" width="2" height="4" fill="#fff"/>
<rect x="679" y="306" width="4" height="6" fill="#000"/>
<rect x="680" y="307" width="2" height="4" fill="#fff"/>
<path d="M334 196h1v1h-1zM682 196h1v1h-1zM335 198h1v1h-1zM681 198h1v1h-1zM334 199h1v1h-1zM682 199h1v1h-1zM334 200h1v1h-1zM682 200h1v1h-1zM335 201h1v1h-1zM681 201h1v1h-1zM334 203h1v1h-1zM682 203h1v1h-1zM334 204h1v1h-1zM682 204h1v1h-1zM335 205h1v1h-1zM681 205h1v1h-1zM335 206h1v1h-1zM681 206h1v1h-1zM334 207h1v1h-1zM682 207h1v1h-1zM334 208h1v1h-1zM682 208h1v1h-1zM335 209h1v1h-1zM681 209h1v1h-1zM335 210h1v1h-1zM681 210h1v1h-1zM334 211h1v1h-1zM682 211h1v1h-1zM334 212h1v1h-1zM682 212h1v1h-1zM335 213h1v1h-1zM681 213h1v1h-1zM335 214h1v1h-1zM681 214h1v1h-1zM334 215h1v1h-1zM682 215h1v1h-1zM334 216h1v1h-1zM682 216h1v1h-1zM335 217h1v1h-1zM681 217h1v1h-1zM335 218h1v1h-1zM681 218h1v1h-1zM334 219h1v1h-1zM682 219h1v1h-1zM334 220h1v1h-1zM682 220h1v1h-1zM335 221h1v1h-1zM681 221h1v1h-1zM335 222h1v1h-1zM681 222h1v1h-1zM334 223h1v1h-1zM682 223h1v1h-1zM334 224h1v1h-1zM682 224h1v1h-1zM335 225h1v1h-1zM681 225h1v1h-1zM335 226h1v1h-1zM681 226h1v1h-1zM334 227h1v1h-1zM682 227h1v1h-1zM334 228h1v1h-1zM682 228h1v1h-1zM335 229h1v1h-1zM681 229h1v1h-1zM335 230h1v1h-1zM681 230h1v1h-1zM334 231h1v1h-1zM682 231h1v1h-1zM334 232h1v1h-1zM682 232h1v1h-1zM335 233h1v1h-1zM681 233h1v1h-1zM335 234h1v1h-1zM681 234h1v1h-1zM334 235h1v1h-1zM682 235h1v1h-1zM334 236h1v1h-1zM682 236h1v1h-1zM335 237h1v1h-1zM681 237h1v1h-1zM335 238h1v1h-1zM681 238h1v1h-1zM334 239h1v1h-1zM682 239h1v1h-1zM334 240h1v1h-1zM682 240h1v1h-1zM335 241h1v1h-1zM681 241h1v1h-1zM335 242h1v1h-1zM681 242h1v1h-1zM334 243h1v1h-1zM682 243h1v1h-1zM334 244h1v1h-1zM682 244h1v1h-1zM335 245h1v1h-1zM681 245h1v1h-1zM335 246h1v1h-1zM681 246h1v1h-1zM334 247h1v1h-1zM682 247h1v1h-1zM334 248h1v1h-1zM682 248h1v1h-1zM335 249h1v1h-1zM681 249h1v1h-1zM335 250h1v1h-1zM681 250h1v1h-1zM334 251h1v1h-1zM682 251h1v1h-1zM334 252h1v1h-1zM682 252h1v1h-1zM335 253h1v1h-1zM681 253h1v1h-1zM335 254h1v1h-1zM681 254h1v1h-1zM334 255h1v1h-1zM682 255h1v1h-1zM334 256h1v1h-1zM682 256h1v1h-1zM335 257h1v1h-1zM681 257h1v1h-1zM335 258h1v1h-1zM681 258h1v1h-1zM334 259h1v1h-1zM682 259h1v1h-1zM334 260h1v1h-1zM682 260h1v1h-1zM335 261h1v1h-1zM681 261h1v1h-1zM335 262h1v1h-1zM681 262h1v1h-1zM334 263h1v1h-1zM682 263h1v1h-1zM334 264h1v1h-1zM682 264h1v1h-1zM335 265h1v1h-1zM681 265h1v1h-1zM335 266h1v1h-1zM681 266h1v1h-1zM334 267h1v1h-1zM682 267h1v1h-1zM334 268h1v1h-1zM682 268h1v1h-1zM335 269h1v1h-1zM681 269h1v1h-1zM335 270h1v1h-1zM681 270h1v1h-1zM334 271h1v1h-1zM682 271h1v1h-1zM334 272h1v1h-1zM682 272h1v1h-1zM335 273h1v1h-1zM681 273h1v1h-1zM335 274h1v1h-1zM681 274h1v1h-1zM334 275h1v1h-1zM682 275h1v1h-1zM334 276h1v1h-1zM682 276h1v1h-1zM335 277h1v1h-1zM681 277h1v1h-1zM335 278h1v1h-1zM681 278h1v1h-1zM334 279h1v1h-1zM682 279h1v1h-1zM334 280h1v1h-1zM682 280h1v1h-1zM335 281h1v1h-1zM681 281h1v1h-1zM335 282h1v1h-1zM681 282h1v1h-1zM334 283h1v1h-1zM682 283h1v1h-1zM334 284h1v1h-1zM682 284h1v1h-1zM335 285h1v1h-1zM681 285h1v1h-1zM335 286h1v1h-1zM681 286h1v1h-1zM334 287h1v1h-1zM682 287h1v1h-1zM334 288h1v1h-1zM682 288h1v1h-1zM335 289h1v1h-1zM681 289h1v1h-1zM335 290h1v1h-1zM681 290h1v1h-1zM334 291h1v1h-1zM682 291h1v1h-1zM334 292h1v1h-1zM682 292h1v1h-1zM335 293h1v1h-1zM681 293h1v1h-1zM335 294h1v1h-1zM681 294h1v1h-1zM334 295h1v1h-1zM682 295h1v1h-1zM334 296h1v1h-1zM682 296h1v1h-1zM335 297h1v1h-1zM681 297h1v1h-1zM335 298h1v1h-1zM681 298h1v1h-1zM334 299h1v1h-1zM682 299h1v1h-1zM334 300h1v1h-1zM682 300h1v1h-1zM335 301h1v1h-1zM681 301h1v1h-1zM335 302h1v1h-1zM681 302h1v1h-1zM334 303h1v1h-1zM682 303h1v1h-1zM334 304h1v1h-1zM682 304h1v1h-1zM335 305h1v1h-1zM681 305h1v1h-1zM334 307h1v1h-1zM682 307h1v1h-1zM334 308h1v1h-1zM682 308h1v1h-1zM335 309h1v1h-1zM681 309h1v1h-1zM335 310h1v1h-1zM681 310h1v1h-1zM334 312h1v1h-1zM682 312h1v1h-1z" fill="#fff"/>
<path d="M335 196h1v1h-1zM681 196h1v1h-1zM334 198h1v1h-1zM682 198h1v1h-1zM335 199h1v1h-1zM681 199h1v1h-1zM335 200h1v1h-1zM681 200h1v1h-1zM334 201h1v1h-1zM682 201h1v1h-1zM335 203h1v1h-1zM681 203h1v1h-1zM335 204h1v1h-1zM681 204h1v1h-1zM334 205h1v1h-1zM682 205h1v1h-1zM334 206h1v1h-1zM682 206h1v1h-1zM335 207h1v1h-1zM681 207h1v1h-1zM335 208h1v1h-1zM681 208h1v1h-1zM334 209h1v1h-1zM682 209h1v1h-1zM334 210h1v1h-1zM682 210h1v1h-1zM335 211h1v1h-1zM681 211h1v1h-1zM335 212h1v1h-1zM681 212h1v1h-1zM334 213h1v1h-1zM682 213h1v1h-1zM334 214h1v1h-1zM682 214h1v1h-1zM335 215h1v1h-1zM681 215h1v1h-1zM335 216h1v1h-1zM681 216h1v1h-1zM334 217h1v1h-1zM682 217h1v1h-1zM334 218h1v1h-1zM682 218h1v1h-1zM335 219h1v1h-1zM681 219h1v1h-1zM335 220h1v1h-1zM681 220h1v1h-1zM334 221h1v1h-1zM682 221h1v1h-1zM334 222h1v1h-1zM682 222h1v1h-1zM335 223h1v1h-1zM681 223h1v1h-1zM335 224h1v1h-1zM681 224h1v1h-1zM334 225h1v1h-1zM682 225h1v1h-1zM334 226h1v1h-1zM682 226h1v1h-1zM335 227h1v1h-1zM681 227h1v1h-1zM335 228h1v1h-1zM681 228h1v1h-1zM334 229h1v1h-1zM682 229h1v1h-1zM334 230h1v1h-1zM682 230h1v1h-1zM335 231h1v1h-1zM681 231h1v1h-1zM335 232h1v1h-1zM681 232h1v1h-1zM334 233h1v1h-1zM682 233h1v1h-1zM334 234h1v1h-1zM682 234h1v1h-1zM335 235h1v1h-1zM681 235h1v1h-1zM335 236h1v1h-1zM681 236h1v1h-1zM334 237h1v1h-1zM682 237h1v1h-1zM334 238h1v1h-1zM682 238h1v1h-1zM335 239h1v1h-1zM681 239h1v1h-1zM335 240h1v1h-1zM681 240h1v1h-1zM334 241h1v1h-1zM682 241h1v1h-1zM334 242h1v1h-1zM682 242h1v1h-1zM335 243h1v1h-1zM681 243h1v1h-1zM335 244h1v1h-1zM681 244h1v1h-1zM334 245h1v1h-1zM682 245h1v1h-1zM334 246h1v1h-1zM682 246h1v1h-1zM335 247h1v1h-1zM681 247h1v1h-1zM335 248h1v1h-1zM681 248h1v1h-1zM334 249h1v1h-1zM682 249h1v1h-1zM334 250h1v1h-1zM682 250h1v1h-1zM335 251h1v1h-1zM681 251h1v1h-1zM335 252h1v1h-1zM681 252h1v1h-1zM334 253h1v1h-1zM682 253h1v1h-1zM334 254h1v1h-1zM682 254h1v1h-1zM335 255h1v1h-1zM681 255h1v1h-1zM335 256h1v1h-1zM681 256h1v1h-1zM334 257h1v1h-1zM682 257h1v1h-1zM334 258h1v1h-1zM682 258h1v1h-1zM335 259h1v1h-1zM681 259h1v1h-1zM335 260h1v1h-1zM681 260h1v1h-1zM334 261h1v1h-1zM682 261h1v1h-1zM334 262h1v1h-1zM682 262h1v1h-1zM335 263h1v1h-1zM681 263h1v1h-1zM335 264h1v1h-1zM681 264h1v1h-1zM334 265h1v1h-1zM682 265h1v1h-1zM334 266h1v1h-1zM682 266h1v1h-1zM335 267h1v1h-1zM681 267h1v1h-1zM335 268h1v1h-1zM681 268h1v1h-1zM334 269h1v1h-1zM682 269h1v1h-1zM334 270h1v1h-1zM682 270h1v1h-1zM335 271h1v1h-1zM681 271h1v1h-1zM335 272h1v1h-1zM681 272h1v1h-1zM334 273h1v1h-1zM682 273h1v1h-1zM334 274h1v1h-1zM682 274h1v1h-1zM335 275h1v1h-1zM681 275h1v1h-1zM335 276h1v1h-1zM681 276h1v1h-1zM334 277h1v1h-1zM682 277h1v1h-1zM334 278h1v1h-1zM682 278h1v1h-1zM335 279h1v1h-1zM681 279h1v1h-1zM335 280h1v1h-1zM681 280h1v1h-1zM334 281h1v1h-1zM682 281h1v1h-1zM334 282h1v1h-1zM682 282h1v1h-1zM335 283h1v1h-1zM681 283h1v1h-1zM335 284h1v1h-1zM681 284h1v1h-1zM334 285h1v1h-1zM682 285h1v1h-1zM334 286h1v1h-1zM682 286h1v1h-1zM335 287h1v1h-1zM681 287h1v1h-1zM335 288h1v1h-1zM681 288h1v1h-1zM334 289h1v1h-1zM682 289h1v1h-1zM334 290h1v1h-1zM682 290h1v1h-1zM335 291h1v1h-1zM681 291h1v1h-1zM335 292h1v1h-1zM681 292h1v1h-1zM334 293h1v1h-1zM682 293h1v1h-1zM334 294h1v1h-1zM682 294h1v1h-1zM335 295h1v1h-1zM681 295h1v1h-1zM335 296h1v1h-1zM681 296h1v1h-1zM334 297h1v1h-1zM682 297h1v1h-1zM334 298h1v1h-1zM682 298h1v1h-1zM335 299h1v1h-1zM681 299h1v1h-1zM335 300h1v1h-1zM681 300h1v1h-1zM334 301h1v1h-1zM682 301h1v1h-1zM334 302h1v1h-1zM682 302h1v1h-1zM335 303h1v1h-1zM681 303h1v1h-1zM335 304h1v1h-1zM681 304h1v1h-1zM334 305h1v1h-1zM682 305h1v1h-1zM335 307h1v1h-1zM681 307h1v1h-1zM335 308h1v1h-1zM681 308h1v1h-1zM334 309h1v1h-1zM682 309h1v1h-1zM334 310h1v1h-1zM682 310h1v1h-1zM335 312h1v1h-1zM681 312h1v1h-1z" fill="#000"/>
<text x="354" y="225" font-family='"Liberation Sans", sans-serif' font-size="12" fill="#000" text-anchor="start" font-weight="normal" textLength="68" lengthAdjust="spacingAndGlyphs" stroke="#000" stroke-width="0.25">Loop Timer 2</text>
<g transform="translate(348,227)" shape-rendering="auto"><path d="M6.5 2.5 H35.5 L39.5 6.5 V31.5 L33.5 38.5 H8.5 L2.5 31.5 V6.5 Z" fill="#c6daf8" stroke="#3a8af0" stroke-width="1"/><path d="M5.5 31 V5.5 H36.5 V30" fill="#d2d2d2" stroke="#000" stroke-width="1"/><path d="M5 30.5 L20 25.5 L35 29.5 L20 34.5 Z" fill="#1f9a1f"/><path d="M6 31.5 L20 37 L34 30.5" fill="none" stroke="#b0a000" stroke-width="3.4" stroke-dasharray="0.9 1.1"/><path d="M12 29.5 C12 22 13.5 15 15 11.5 C16.5 8 21.5 8 23 11.5 C24.5 15 27 22 27.5 29.5 C23 31 16.5 31 12 29.5 Z" fill="#fff" stroke="#000" stroke-width="1.5"/><path d="M22 11.5 C23.5 15 26 22 26.5 29 L24.5 29.5 C24 22 23 16 21 11.5 Z" fill="#707070"/><path d="M18 12 h3 M18 14 h3 M18 16 h3 M18 18 h3 M18 20 h3 M18 22 h3" stroke="#000" stroke-width="1"/><path d="M16.5 28 Q19 26 21.5 28" fill="none" stroke="#000" stroke-width="1"/><path d="M9 10.5 L17 25" stroke="#000" stroke-width="1.2"/><circle cx="11.3" cy="15" r="1.9" fill="#000"/><path d="M29.5 12 V8.5 H34 V11.5" fill="none" stroke="#a010b0" stroke-width="1.1"/><path d="M32 11 L34 13.5 L36 11 Z" fill="#a010b0"/><path d="M33.5 15 V18.5 H29 V15.5" fill="none" stroke="#a010b0" stroke-width="1.1"/><path d="M27 16 L29 13.5 L31 16 Z" fill="#a010b0"/></g>
<rect x="444" y="228" width="78" height="38" fill="#990099"/>
<rect x="446" y="230" width="74" height="34" fill="#fff"/>
<rect x="447" y="231" width="72" height="14" fill="#000"/>
<rect x="448" y="232" width="70" height="12" fill="#f0b4f8"/>
<rect x="447" y="244" width="72" height="18" fill="#990099"/>
<rect x="448" y="245" width="70" height="16" fill="#fff"/>
<path d="M450.6 246.6 H453 L455.4 249 V251.4 H450.6 Z" fill="none" stroke="#000" stroke-width="1.2" shape-rendering="auto"/>
<path d="M451.2 249 H453 V247" fill="none" stroke="#000" stroke-width="1" shape-rendering="auto"/>
<path transform="translate(457,248)" d="M0.3 8.5 L1.5 7 V4.5 C1.5 1.2 6 1.2 6 4.5 V6.5 C6 8.6 9.5 8.6 9.5 6.5 V4.5 C9.5 1.2 14 1.2 14 4.5 V7 L15.3 8.5" fill="none" stroke="#000" stroke-width="1.9" shape-rendering="auto"/>
<text x="484" y="256.5" font-family='"Liberation Sans", sans-serif' font-size="12" fill="#2b2bff" text-anchor="start" font-weight="normal" textLength="17" lengthAdjust="spacingAndGlyphs" stroke="#2b2bff" stroke-width="0.25">AI1</text>
<path d="M511.6 246.6 H514 L516.4 249 V251.4 H511.6 Z" fill="none" stroke="#000" stroke-width="1.2" shape-rendering="auto"/>
<path d="M512.2 249 H514 V247" fill="none" stroke="#000" stroke-width="1" shape-rendering="auto"/>
<path d="M514 254 L517 257 L514 260 Z" fill="#000"/>
<rect x="561" y="215" width="104" height="79" fill="#990099"/>
<rect x="562" y="216" width="102" height="17" fill="#f0b4f8"/>
<rect x="562" y="234" width="102" height="14" fill="#fff"/>
<text x="613" y="244.5" font-family='"Liberation Sans", sans-serif' font-size="12" fill="#000" text-anchor="middle" font-weight="normal" stroke="#000" stroke-width="0.25">Write</text>
<rect x="562" y="249" width="102" height="14" fill="#fff"/>
<text x="613" y="259.5" font-family='"Liberation Sans", sans-serif' font-size="12" fill="#0000ff" text-anchor="middle" font-weight="normal" stroke="#0000ff" stroke-width="0.25">Element</text>
<rect x="562" y="264" width="102" height="14" fill="#fff"/>
<text x="613" y="274.5" font-family='"Liberation Sans", sans-serif' font-size="12" fill="#0000ff" text-anchor="middle" font-weight="normal" stroke="#0000ff" stroke-width="0.25">Timeout</text>
<rect x="562" y="279" width="102" height="14" fill="#fff"/>
<text x="613" y="289.5" font-family='"Liberation Sans", sans-serif' font-size="12" fill="#008000" text-anchor="middle" font-weight="normal" stroke="#008000" stroke-width="0.25">Timed Out?</text>
<path d="M564.6 218.6 H567 L569.4 221 V223.4 H564.6 Z" fill="none" stroke="#000" stroke-width="1.2" shape-rendering="auto"/>
<path d="M565.2 221 H567 V219" fill="none" stroke="#000" stroke-width="1" shape-rendering="auto"/>
<path d="M657.6 217.6 H660 L662.4 220 V222.4 H657.6 Z" fill="none" stroke="#000" stroke-width="1.2" shape-rendering="auto"/>
<path d="M658.2 220 H660 V218" fill="none" stroke="#000" stroke-width="1" shape-rendering="auto"/>
<text x="611" y="228.5" font-family='"Liberation Sans", sans-serif' font-size="12" fill="#000" text-anchor="middle" font-weight="normal" textLength="28" lengthAdjust="spacingAndGlyphs" stroke="#000" stroke-width="0.25">FIFO2</text>
<rect x="576" y="223" width="1" height="2" fill="#000"/>
<rect x="578" y="223" width="2" height="2" fill="#000"/>
<rect x="581" y="223" width="4" height="2" fill="#000"/>
<path d="M584 219.5 L589 224 L584 228.5 Z" fill="#000" shape-rendering="auto"/>
<rect x="638" y="224" width="3" height="1" fill="#000"/>
<rect x="640" y="220" width="2" height="5" fill="#e0007a"/>
<rect x="640" y="225" width="2" height="4" fill="#6000a0"/>
<rect x="643" y="220" width="2" height="5" fill="#e0007a"/>
<rect x="643" y="225" width="2" height="4" fill="#6000a0"/>
<rect x="646" y="220" width="2" height="5" fill="#e0007a"/>
<rect x="646" y="225" width="2" height="4" fill="#6000a0"/>
<rect x="648" y="224" width="4" height="1" fill="#000"/>
<path d="M649.5 221.5 L652 224.5 L649.5 227.5" fill="none" stroke="#000" stroke-width="1" shape-rendering="auto"/>
<path d="M562 254 L565 257 L562 260 Z" fill="#000"/>
<path d="M562 268 L565 271 L562 274 Z" fill="#000"/>
<path d="M661 283 L664 286 L661 289 Z" fill="#000"/>
<rect x="532" y="262" width="19" height="19" fill="#0000ff"/>
<rect x="534" y="264" width="15" height="15" fill="#fff"/>
<text x="535.5" y="276" font-family='"Liberation Sans", sans-serif' font-size="12" fill="#000" text-anchor="start" font-weight="normal" textLength="11" lengthAdjust="spacingAndGlyphs" stroke="#000" stroke-width="0.25">10</text>
<rect x="522" y="257" width="39" height="1" fill="#0000ff"/>
<rect x="551" y="271" width="10" height="1" fill="#0000ff"/>
<rect x="299" y="244" width="9" height="9" fill="#000"/>
<rect x="300" y="245" width="7" height="7" fill="#0000ff"/>
<rect x="334" y="244" width="9" height="9" fill="#000"/>
<rect x="335" y="245" width="7" height="7" fill="#0000ff"/>
<rect x="308" y="248" width="26" height="1" fill="#0000ff"/>
<rect x="343" y="248" width="7" height="1" fill="#0000ff"/>
<text x="175" y="49" font-family='"Liberation Sans", sans-serif' font-size="12" fill="#000" text-anchor="start" font-weight="normal" textLength="111" lengthAdjust="spacingAndGlyphs" stroke="#000" stroke-width="0.25">Samples per Channel</text>
<rect x="174" y="53" width="32" height="16" fill="#0000ff"/>
<rect x="176" y="55" width="28" height="12" fill="#fff"/>
<rect x="177" y="56" width="26" height="10" fill="#0000ff"/>
<rect x="178" y="57" width="24" height="8" fill="#fff"/>
<text x="182" y="64.2" font-family='"Liberation Sans", sans-serif' font-size="9" fill="#0000ff" text-anchor="start" font-weight="bold" textLength="15" lengthAdjust="spacingAndGlyphs" stroke="#0000ff" stroke-width="0.45">I32</text>
<rect x="196" y="55" width="8" height="12" fill="rgba(110,110,255,0.55)"/>
<path d="M201 58 L204 61 L201 64 Z" fill="#000"/>
<text x="175" y="86" font-family='"Liberation Sans", sans-serif' font-size="12" fill="#000" text-anchor="start" font-weight="normal" textLength="77" lengthAdjust="spacingAndGlyphs" stroke="#000" stroke-width="0.25">Rate 1 (Period)</text>
<rect x="174" y="90" width="32" height="16" fill="#0000ff"/>
<rect x="176" y="92" width="28" height="12" fill="#fff"/>
<rect x="177" y="93" width="26" height="10" fill="#0000ff"/>
<rect x="178" y="94" width="24" height="8" fill="#fff"/>
<text x="182" y="101.2" font-family='"Liberation Sans", sans-serif' font-size="9" fill="#0000ff" text-anchor="start" font-weight="bold" textLength="15" lengthAdjust="spacingAndGlyphs" stroke="#0000ff" stroke-width="0.45">U32</text>
<rect x="196" y="92" width="8" height="12" fill="rgba(110,110,255,0.55)"/>
<path d="M201 95 L204 98 L201 101 Z" fill="#000"/>
<text x="175" y="236" font-family='"Liberation Sans", sans-serif' font-size="12" fill="#000" text-anchor="start" font-weight="normal" textLength="77" lengthAdjust="spacingAndGlyphs" stroke="#000" stroke-width="0.25">Rate 2 (Period)</text>
<rect x="174" y="240" width="32" height="16" fill="#0000ff"/>
<rect x="176" y="242" width="28" height="12" fill="#fff"/>
<rect x="177" y="243" width="26" height="10" fill="#0000ff"/>
<rect x="178" y="244" width="24" height="8" fill="#fff"/>
<text x="182" y="251.2" font-family='"Liberation Sans", sans-serif' font-size="9" fill="#0000ff" text-anchor="start" font-weight="bold" textLength="15" lengthAdjust="spacingAndGlyphs" stroke="#0000ff" stroke-width="0.45">U32</text>
<rect x="196" y="242" width="8" height="12" fill="rgba(110,110,255,0.55)"/>
<path d="M201 245 L204 248 L201 251 Z" fill="#000"/>
<text x="28" y="181" font-family='"Liberation Sans", sans-serif' font-size="12" fill="#000" text-anchor="start" font-weight="normal" textLength="26" lengthAdjust="spacingAndGlyphs" stroke="#000" stroke-width="0.25">Level</text>
<rect x="27" y="185" width="32" height="16" fill="#0000ff"/>
<rect x="29" y="187" width="28" height="12" fill="#fff"/>
<rect x="30" y="188" width="26" height="10" fill="#0000ff"/>
<rect x="31" y="189" width="24" height="8" fill="#fff"/>
<text x="35" y="196.2" font-family='"Liberation Sans", sans-serif' font-size="9" fill="#0000ff" text-anchor="start" font-weight="bold" textLength="15" lengthAdjust="spacingAndGlyphs" stroke="#0000ff" stroke-width="0.45">I16</text>
<rect x="49" y="187" width="8" height="12" fill="rgba(110,110,255,0.55)"/>
<path d="M54 190 L57 193 L54 196 Z" fill="#000"/>
<rect x="27" y="115" width="78" height="38" fill="#990099"/>
<rect x="29" y="117" width="74" height="34" fill="#fff"/>
<rect x="30" y="118" width="72" height="14" fill="#000"/>
<rect x="31" y="119" width="70" height="12" fill="#f0b4f8"/>
<rect x="30" y="131" width="72" height="18" fill="#990099"/>
<rect x="31" y="132" width="70" height="16" fill="#fff"/>
<path d="M33.6 133.6 H36 L38.4 136 V138.4 H33.6 Z" fill="none" stroke="#000" stroke-width="1.2" shape-rendering="auto"/>
<path d="M34.2 136 H36 V134" fill="none" stroke="#000" stroke-width="1" shape-rendering="auto"/>
<path transform="translate(40,135)" d="M0.3 8.5 L1.5 7 V4.5 C1.5 1.2 6 1.2 6 4.5 V6.5 C6 8.6 9.5 8.6 9.5 6.5 V4.5 C9.5 1.2 14 1.2 14 4.5 V7 L15.3 8.5" fill="none" stroke="#000" stroke-width="1.9" shape-rendering="auto"/>
<text x="67" y="143.5" font-family='"Liberation Sans", sans-serif' font-size="12" fill="#2b2bff" text-anchor="start" font-weight="normal" textLength="17" lengthAdjust="spacingAndGlyphs" stroke="#2b2bff" stroke-width="0.25">AI0</text>
<path d="M94.6 133.6 H97 L99.4 136 V138.4 H94.6 Z" fill="none" stroke="#000" stroke-width="1.2" shape-rendering="auto"/>
<path d="M95.2 136 H97 V134" fill="none" stroke="#000" stroke-width="1" shape-rendering="auto"/>
<path d="M97 141 L100 144 L97 147 Z" fill="#000"/>
<rect x="206" y="61" width="87" height="1" fill="#0000ff"/>
<rect x="206" y="98" width="86" height="1" fill="#0000ff"/>
<rect x="295" y="98" width="4" height="1" fill="#0000ff"/>
<rect x="206" y="248" width="93" height="1" fill="#0000ff"/>
<rect x="293" y="45" width="1" height="150" fill="#0000ff"/>
<rect x="293" y="45" width="6" height="1" fill="#0000ff"/>
<rect x="293" y="194" width="6" height="1" fill="#0000ff"/>
<circle cx="293.5" cy="61.5" r="2.5" fill="#0000ff"/>
<rect x="105" y="144" width="7" height="1" fill="#0000ff"/>
<rect x="112" y="144" width="1" height="40" fill="#0000ff"/>
<rect x="112" y="183" width="5" height="1" fill="#0000ff"/>
<rect x="59" y="193" width="58" height="1" fill="#0000ff"/>
<path d="M117.5 178.5 L137.5 188.5 L117.5 198.5 Z" fill="#faf5c8" stroke="#000" stroke-width="1"/>
<path d="M121 185.2 L127 188.5 L121 191.8" fill="none" stroke="#000" stroke-width="2.2" shape-rendering="auto"/>
<path d="M138 188.5 H160" stroke="#008000" stroke-width="1" stroke-dasharray="1 1"/>
<circle cx="148.5" cy="188.5" r="2.2" fill="#fff" stroke="#008000" stroke-width="1.3" shape-rendering="auto"/>
<rect x="148" y="188" width="1" height="1" fill="#008000"/>
<path d="M148.5 191 V349.5 H647" fill="none" stroke="#008000" stroke-width="1" stroke-dasharray="1 1"/>
<rect x="160" y="182" width="8" height="12" fill="#008000"/>
<rect x="161" y="183" width="6" height="10" fill="#ffffcc"/>
<text x="164" y="192" font-family='"Liberation Sans", sans-serif' font-size="11" fill="#106010" text-anchor="middle" font-weight="normal" stroke="#106010" stroke-width="0.25">?</text>
<text x="581" y="361" font-family='"Liberation Sans", sans-serif' font-size="12" fill="#000" text-anchor="start" font-weight="normal" textLength="23" lengthAdjust="spacingAndGlyphs" stroke="#000" stroke-width="0.25">stop</text>
<rect x="580" y="365" width="32" height="16" fill="#008000"/>
<rect x="582" y="367" width="28" height="12" fill="#fff"/>
<rect x="583" y="368" width="26" height="10" fill="#008000"/>
<rect x="584" y="369" width="24" height="8" fill="#fff"/>
<text x="590" y="376" font-family='"Liberation Sans", sans-serif' font-size="8.5" fill="#007000" text-anchor="start" font-weight="bold" textLength="6" lengthAdjust="spacingAndGlyphs" stroke="#007000" stroke-width="0.4">T</text>
<text x="597.5" y="376" font-family='"Liberation Sans", sans-serif' font-size="8.5" fill="#007000" text-anchor="start" font-weight="bold" textLength="5.5" lengthAdjust="spacingAndGlyphs" stroke="#007000" stroke-width="0.4">F</text>
<rect x="602" y="367" width="8" height="12" fill="rgba(100,180,100,0.55)"/>
<path d="M607 370 L610 373 L607 376 Z" fill="#000"/>
<path d="M612 373.5 H627.5 V357.5 H651" fill="none" stroke="#008000" stroke-width="1" stroke-dasharray="1 1"/>
<path d="M647 345.5 H657 Q665 347 669 353 Q665 359 657 360.5 H647 Q651 357 651 353 Q651 349 647 345.5 Z" fill="#faf5c8" stroke="#000" stroke-width="1.2" shape-rendering="auto"/>
<path d="M655 350 L658 356 L661 350" fill="none" stroke="#000" stroke-width="2" shape-rendering="auto"/>
<path d="M670 353.5 H695" stroke="#008000" stroke-width="1" stroke-dasharray="1 1"/>
<rect x="695" y="345" width="16" height="16" fill="#008000"/>
<rect x="696" y="346" width="14" height="14" fill="#f8f8d8"/>
<circle cx="703" cy="353" r="5.6" fill="#f8f8d8" stroke="#000" stroke-width="1" shape-rendering="auto"/>
<circle cx="703" cy="353" r="4.2" fill="#ff0000" stroke="#000" stroke-width="0.6" shape-rendering="auto"/>
<rect x="406" y="25" width="64" height="17" fill="#000"/>
<rect x="407" y="26" width="62" height="15" fill="#fff"/>
<rect x="414" y="26" width="1" height="15" fill="#000"/>
<rect x="460" y="26" width="1" height="15" fill="#000"/>
<path d="M413 29 V38 L408 33.5 Z" fill="#000"/>
<path d="M462 29 V38 L467 33.5 Z" fill="#000"/>
<text x="417" y="38" font-family='"Liberation Sans", sans-serif' font-size="13" fill="#000" text-anchor="start" font-weight="normal" stroke="#000" stroke-width="0.25">True</text>
<path d="M451 30 h8 l-4 5 Z" fill="#000"/>
</svg>
</body></html>
